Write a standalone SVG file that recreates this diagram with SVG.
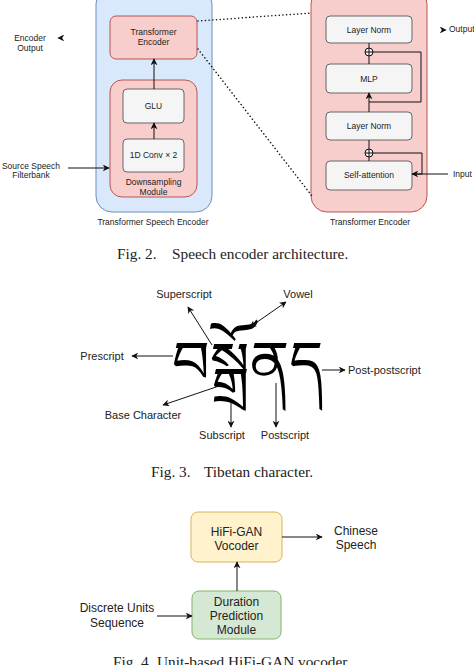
<svg xmlns="http://www.w3.org/2000/svg" width="474" height="665" viewBox="0 0 474 665">
<style>
.t{font-family:"Liberation Sans",Arial,sans-serif;fill:#222;text-anchor:middle}
.s8{font-size:8.5px}
.s11{font-size:11px}
.s12{font-size:12px}
.cap{font-family:"Liberation Serif","Times New Roman",serif;font-size:15.3px;fill:#222}
.blue{fill:#dae8fc;stroke:#6c8ebf;stroke-width:1}
.pink{fill:#f8cecc;stroke:#b85450;stroke-width:1}
.gray{fill:#f5f5f5;stroke:#666;stroke-width:1}
.yel{fill:#fff2cc;stroke:#d6b656;stroke-width:1}
.grn{fill:#d5e8d4;stroke:#82b366;stroke-width:1}
.ln{fill:none;stroke:#111;stroke-width:1}
.dot{fill:none;stroke:#111;stroke-width:1.5;stroke-dasharray:0.1 3.6;stroke-linecap:round}
</style>
<defs>
<marker id="ah" viewBox="0 0 10 10" refX="9" refY="5" markerWidth="7" markerHeight="7" orient="auto-start-reverse" markerUnits="userSpaceOnUse">
<path d="M0,0 L10,5 L0,10 L3,5 z" fill="#111"/>
</marker>
</defs>

<!-- Fig 2 left -->
<g id="speech-encoder">
<rect class="blue" x="96" y="-12" width="116" height="224" rx="16"/>
<text class="t s8" x="153" y="225">Transformer Speech Encoder</text>
</g>
<g id="transformer-encoder-block">
<rect class="pink" x="110" y="16" width="87" height="43" rx="6"/>
<text class="t s8" x="153.5" y="35">Transformer</text>
<text class="t s8" x="153.5" y="45">Encoder</text>
</g>
<g id="downsampling">
<rect class="pink" x="110" y="80" width="87" height="117" rx="12"/>
<text class="t s8" x="153.5" y="185">Downsampling</text>
<text class="t s8" x="153.5" y="195">Module</text>
</g>
<g id="glu">
<rect class="gray" x="123" y="89" width="61" height="34" rx="4"/>
<text class="t s8" x="153.5" y="109">GLU</text>
</g>
<g id="conv">
<rect class="gray" x="123" y="139" width="61" height="33" rx="4"/>
<text class="t s8" x="153.5" y="158">1D Conv × 2</text>
</g>
<g id="encoder-output">
<text class="t s8" x="30" y="41">Encoder</text>
<text class="t s8" x="30" y="51">Output</text>
</g>
<g id="source-speech">
<text class="t s8" x="31" y="169">Source Speech</text>
<text class="t s8" x="31" y="178">Filterbank</text>
</g>

<!-- Fig 2 right -->
<g id="transformer-encoder">
<rect class="pink" x="311" y="-12" width="116" height="224" rx="16"/>
<text class="t s8" x="370" y="225">Transformer Encoder</text>
</g>
<g id="layernorm1">
<rect class="gray" x="326" y="16" width="86" height="27" rx="4"/>
<text class="t s8" x="369" y="33">Layer Norm</text>
</g>
<g id="mlp">
<rect class="gray" x="326" y="64" width="86" height="29" rx="4"/>
<text class="t s8" x="369" y="82">MLP</text>
</g>
<g id="layernorm2">
<rect class="gray" x="326" y="112" width="86" height="28" rx="4"/>
<text class="t s8" x="369" y="129">Layer Norm</text>
</g>
<g id="self-attention">
<rect class="gray" x="326" y="161" width="86" height="29" rx="4"/>
<text class="t s8" x="369" y="178">Self-attention</text>
</g>
<g id="add1">
<circle cx="369" cy="52" r="4" fill="#f5f5f5" stroke="#111"/>
<path class="ln" d="M365,52 H373 M369,48 V56"/>
</g>
<g id="add2">
<circle cx="369" cy="153" r="4" fill="#f5f5f5" stroke="#111"/>
<path class="ln" d="M365,153 H373 M369,149 V157"/>
</g>
<g id="output-label">
<text class="t s8" x="449" y="32" style="text-anchor:start">Output</text>
</g>
<g id="input-label">
<text class="t s8" x="453" y="177" style="text-anchor:start">Input</text>
</g>

<!-- Fig 3 -->
<g id="tibetan">
<text x="172" y="383" style="font-family:'Noto Serif Tibetan','Noto Sans Tibetan','Jomolhari','Tibetan Machine Uni',serif;font-size:59px;fill:#000">བསྒྲོནད</text>
</g>
<g id="labels-fig3">
<text class="t s11" x="184" y="298">Superscript</text>
<text class="t s11" x="298" y="298">Vowel</text>
<text class="t s11" x="102" y="360">Prescript</text>
<text class="t s11" x="143" y="419">Base Character</text>
<text class="t s11" x="222" y="439">Subscript</text>
<text class="t s11" x="285" y="439">Postscript</text>
<text class="t s11" x="348" y="374" style="text-anchor:start">Post-postscript</text>
</g>

<!-- Fig 4 -->
<g id="hifigan">
<rect class="yel" x="191" y="512" width="91" height="50" rx="7"/>
<text class="t s12" x="236.5" y="536">HiFi-GAN</text>
<text class="t s12" x="236.5" y="550">Vocoder</text>
</g>
<g id="duration">
<rect class="grn" x="192" y="591" width="89" height="48" rx="7"/>
<text class="t s12" x="236.5" y="606">Duration</text>
<text class="t s12" x="236.5" y="620">Prediction</text>
<text class="t s12" x="236.5" y="634">Module</text>
</g>
<g id="chinese-speech">
<text class="t s12" x="356" y="535">Chinese</text>
<text class="t s12" x="356" y="549">Speech</text>
</g>
<g id="discrete-units">
<text class="t s12" x="117" y="612">Discrete Units</text>
<text class="t s12" x="117" y="627">Sequence</text>
</g>

<!-- connectors -->
<g id="connectors">
<path class="ln" d="M154,139 V123" marker-end="url(#ah)"/>
<path class="ln" d="M154,89 V59" marker-end="url(#ah)"/>
<path class="ln" d="M68,168 H109" marker-end="url(#ah)"/>
<path class="ln" d="M64,38 H58" marker-end="url(#ah)" style="stroke:none"/>
<path class="dot" d="M198,21 L311,13"/>
<path class="dot" d="M198,49 L312,196"/>
<path class="ln" d="M369,43 V48 M369,56 V64"/>
<path class="ln" d="M369,112 V93" marker-end="url(#ah)"/>
<path class="ln" d="M373,52 H421 V102 H369"/>
<path class="ln" d="M369,140 V149 M369,157 V161"/>
<path class="ln" d="M373,153 H422 V174 H412" marker-end="url(#ah)"/>
<path class="ln" d="M448,174 H413"/>
<path class="ln" d="M440,30 H446" marker-end="url(#ah)" style="stroke:none"/>
<!-- fig 3 -->
<path class="ln" d="M212,345 L188,307" marker-end="url(#ah)"/>
<path class="ln" d="M250,327 L286,302" marker-start="url(#ah)" marker-end="url(#ah)"/>
<path class="ln" d="M173,356 L132,356" marker-end="url(#ah)"/>
<path class="ln" d="M222,385 L163,405" marker-end="url(#ah)"/>
<path class="ln" d="M231,402 V427" marker-end="url(#ah)"/>
<path class="ln" d="M276,383 V427" marker-end="url(#ah)"/>
<path class="ln" d="M322,370 H345" marker-end="url(#ah)"/>
<!-- fig 4 -->
<path class="ln" d="M237,591 V562" marker-end="url(#ah)"/>
<path class="ln" d="M282,537 H322" marker-end="url(#ah)"/>
<path class="ln" d="M157,616 H192" marker-end="url(#ah)"/>
</g>

<!-- captions -->
<text class="cap" x="117" y="259">Fig. 2.<tspan x="172">Speech encoder architecture.</tspan></text>
<text class="cap" x="151" y="477">Fig. 3.<tspan x="204">Tibetan character.</tspan></text>
<text class="cap" x="113" y="667">Fig. 4.<tspan x="157">Unit-based HiFi-GAN vocoder.</tspan></text>
</svg>
